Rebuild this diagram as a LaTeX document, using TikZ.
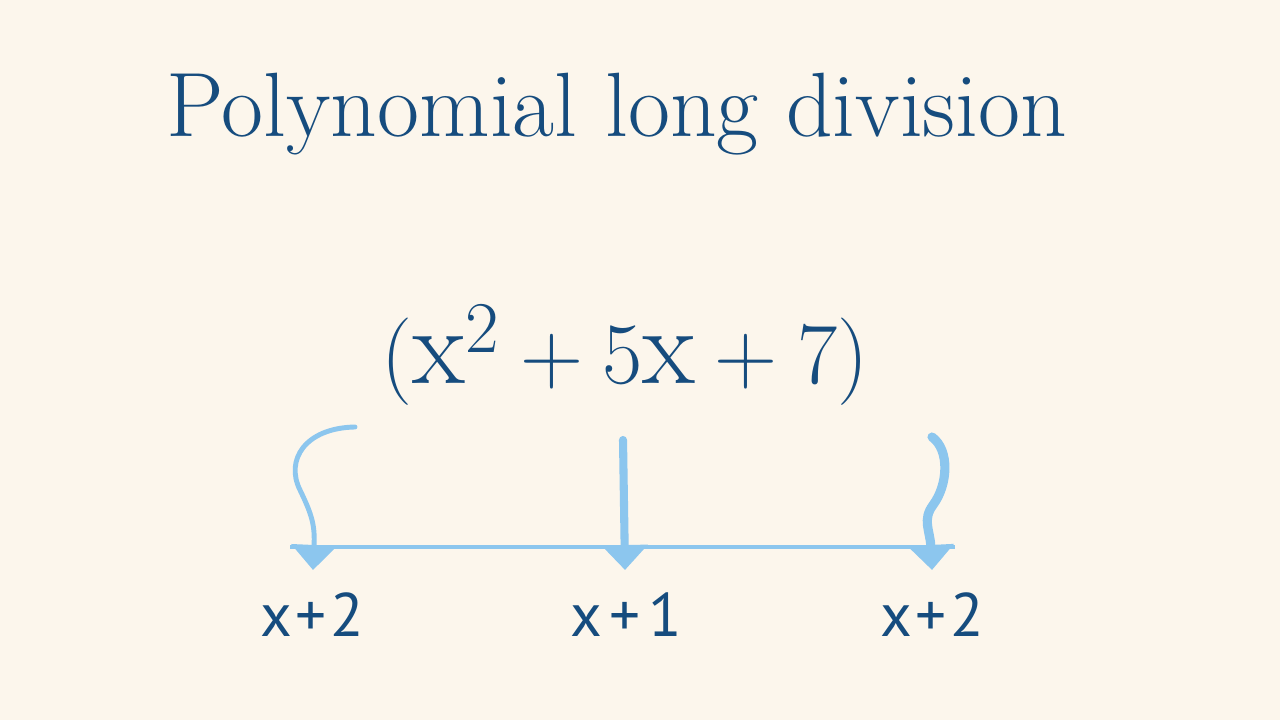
\documentclass[tikz,border=0pt]{standalone}
\usepackage{fontspec}
\newfontfamily\labelfont{PT Sans}
\usetikzlibrary{arrows.meta}

\definecolor{bgcream}{RGB}{252,246,236}
\definecolor{inkblue}{RGB}{22,76,126}
\definecolor{arrowblue}{RGB}{140,198,238}

\tikzset{
	title/.style={text=inkblue, font=\fontsize{26pt}{31pt}\selectfont, anchor=base},
	expr/.style={text=inkblue, font=\fontsize{31pt}{37pt}\selectfont, anchor=base},
	factor/.style={text=inkblue, font=\labelfont\fontsize{17.5pt}{21pt}\selectfont, anchor=base},
	branch/.style={draw=arrowblue, line cap=round, -{Triangle[width=0.45cm,length=0.25cm]}}
}

\begin{document}
\begin{tikzpicture}
	% Фон
	\fill[bgcream] (0,0) rectangle (12.8,7.2);
	\useasboundingbox (0,0) rectangle (12.8,7.2);

	% Заголовок и выражение
	\node[title] (head) at (6.17,5.83) {Polynomial long division};
	\node[expr] (poly) at (6.25,3.36) {$(\mathrm{x}^2 + 5\mathrm{x} + 7)$};

	% Горизонтальная линия
	\coordinate (lineL) at (2.9,1.73);
	\coordinate (lineR) at (9.55,1.73);
	\draw[arrowblue, line width=1.1pt] (lineL) -- (lineR);

	% Начала и концы стрелок
	\coordinate (startA) at (3.55,2.93);
	\coordinate (startB) at (6.23,2.80);
	\coordinate (startC) at (9.32,2.83);
	\coordinate (tipA) at (3.13,1.50);
	\coordinate (tipB) at (6.25,1.50);
	\coordinate (tipC) at (9.32,1.50);

	% Стрелки
	\draw[branch, line width=1.4pt] (startA) .. controls (3.05,2.92) and (2.85,2.6) .. (3.0,2.3)
		.. controls (3.12,2.05) and (3.15,1.95) .. (tipA);
	\draw[branch, line width=2.3pt] (startB) -- (tipB);
	\draw[branch, line width=2.6pt] (startC) .. controls (9.5,2.7) and (9.48,2.35) .. (9.33,2.15)
		.. controls (9.22,2.0) and (9.3,1.9) .. (tipC);

	% Делители
	\node[factor] (fa) at (3.12,0.83) {x\kern1pt+\kern1pt2};
	\node[factor] (fb) at (6.26,0.83) {x\kern2.2pt+\kern2.2pt1};
	\node[factor] (fc) at (9.32,0.83) {x\kern1pt+\kern1pt2};
\end{tikzpicture}
\end{document}
